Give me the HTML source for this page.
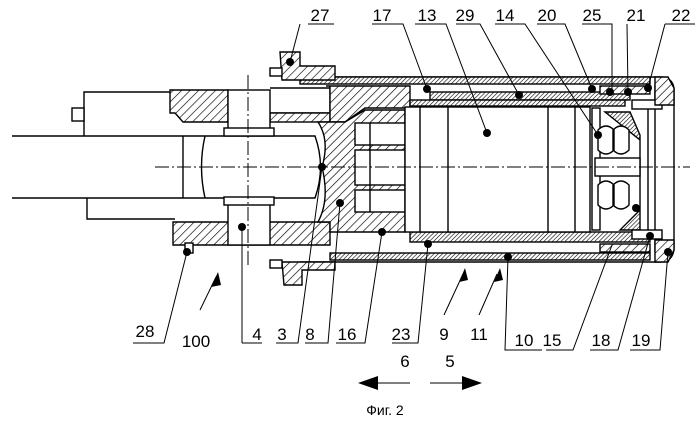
<!DOCTYPE html>
<html><head><meta charset="utf-8"><style>
html,body{margin:0;padding:0;background:#fff;}
svg{display:block}
text{font-family:"Liberation Sans",sans-serif;font-size:17px;fill:#000;font-weight:500}
</style></head><body>
<svg width="698" height="427" viewBox="0 0 698 427" xmlns="http://www.w3.org/2000/svg">
<defs>
<pattern id="h" width="6" height="6" patternUnits="userSpaceOnUse" patternTransform="rotate(45)">
<rect width="6" height="6" fill="#fff"/><line x1="0" y1="0" x2="0" y2="6" stroke="#000" stroke-width="1.3"/>
</pattern>
<pattern id="hf" width="3" height="3" patternUnits="userSpaceOnUse" patternTransform="rotate(45)">
<rect width="3" height="3" fill="#fff"/><line x1="0" y1="0" x2="0" y2="3" stroke="#000" stroke-width="1.2"/>
</pattern>
</defs>
<g stroke="#000" stroke-width="1.4" fill="none">
<!-- left box -->
<path d="M170 92 H84 V136"/>
<path d="M87 198 V219 H175"/>
<rect x="72" y="108" width="12" height="13" fill="#fff"/>
<!-- rod -->
<path d="M12 136 H315 Q326 167 315 198 H12" fill="#fff"/>
<line x1="183" y1="136" x2="183" y2="198"/>
<path d="M205 136 Q198 167 205 198"/>
<!-- upper clevis -->
<path d="M170 90 H228 V122 H183 L175 113 H170 Z" fill="url(#h)"/>
<path d="M270 88 H330 V113 H270" />
<rect x="270" y="113" width="60" height="9" fill="url(#h)"/>
<path d="M326 86 H410 V108 H365 L345 122 H330 V86" fill="url(#h)"/>
<!-- pin -->
<rect x="228" y="90" width="42" height="43" fill="#fff"/>
<rect x="224" y="128" width="50" height="8" fill="#fff"/>
<!-- lower clevis -->
<path d="M173 222 H330 V245 H173 Z" fill="url(#h)"/>
<rect x="228" y="200" width="42" height="45" fill="#fff"/>
<rect x="224" y="197" width="50" height="8" fill="#fff"/>
<!-- piston -->
<path d="M318 122 L345 122 L365 110 H405 V232 H330 V222 H318 Q330 200 322 167 Q330 140 318 122 Z" fill="url(#h)"/>
<rect x="355" y="123" width="50" height="22" fill="#fff"/>
<rect x="355" y="150" width="50" height="35" fill="#fff"/>
<rect x="355" y="190" width="50" height="22" fill="#fff"/>
<line x1="370" y1="123" x2="370" y2="212"/>
<!-- outer tube -->
<path d="M300 77 H660 Q672 77 674 88 V250 Q672 262 660 262 H300" />
<rect x="300" y="77" width="350" height="7" fill="url(#hf)"/>
<rect x="330" y="253" width="320" height="7" fill="url(#hf)"/>
<rect x="430" y="92" width="200" height="8" fill="url(#hf)"/>
<rect x="410" y="232" width="240" height="10" fill="url(#hf)"/>
<rect x="410" y="100" width="215" height="6" fill="url(#hf)"/>
<!-- motor -->
<rect x="405" y="107" width="185" height="125" fill="#fff"/>
<line x1="420" y1="107" x2="420" y2="232"/>
<line x1="448" y1="107" x2="448" y2="232"/>
<line x1="548" y1="107" x2="548" y2="232"/>
<line x1="575" y1="107" x2="575" y2="232"/>
<!-- gear -->
<rect x="592" y="108" width="8" height="122"/>
<path d="M605 112 L630 112 L640 135 V230 H620 L640 210 V140 Z" fill="url(#hf)"/>
<path d="M598 130 q8 -8 16 0 v20 q-8 8 -16 0 Z M613 130 q8 -8 16 0 v20 q-8 8 -16 0 Z" fill="#fff"/>
<path d="M598 185 q8 -8 16 0 v20 q-8 8 -16 0 Z M613 185 q8 -8 16 0 v20 q-8 8 -16 0 Z" fill="#fff"/>
<rect x="595" y="158" width="45" height="18" fill="#fff"/>
<line x1="648" y1="108" x2="648" y2="232"/>
<line x1="655" y1="85" x2="655" y2="252"/>
<rect x="632" y="100" width="30" height="9" fill="#fff"/>
<rect x="632" y="230" width="30" height="9" fill="#fff"/>
<path d="M655 77 H668 L674 88 V105 H655 Z" fill="url(#h)"/>
<path d="M655 240 H674 V250 L668 262 H655 Z" fill="url(#h)"/>
<rect x="600" y="86" width="50" height="8" fill="url(#h)"/>
<rect x="600" y="244" width="50" height="8" fill="url(#h)"/>
<!-- flange 27 -->
<path d="M280 52 H300 V66 H335 V80 H282 Z" fill="url(#h)"/>
<rect x="270" y="68" width="12" height="8" fill="#fff"/>
<path d="M282 262 H335 V270 H302 V285 H284 Z" fill="url(#h)"/>
<rect x="270" y="260" width="12" height="8" fill="#fff"/>
<rect x="185" y="243" width="8" height="10" fill="#fff"/>
</g>
<!-- centerlines -->
<line x1="155" y1="167" x2="690" y2="167" stroke="#000" stroke-width="1" stroke-dasharray="14 3 2 3"/>
<line x1="248" y1="75" x2="248" y2="265" stroke="#000" stroke-width="1" stroke-dasharray="14 3 2 3"/>
<!-- dots -->
<g fill="#000">
<circle cx="290" cy="62" r="4"/><circle cx="427" cy="89" r="4"/><circle cx="487" cy="133" r="4"/>
<circle cx="519" cy="95" r="4"/><circle cx="598" cy="135" r="4"/><circle cx="592" cy="89" r="4"/>
<circle cx="610" cy="92" r="4"/><circle cx="628" cy="92" r="4"/><circle cx="648" cy="88" r="4"/>
<circle cx="187" cy="252" r="4"/><circle cx="242" cy="227" r="4"/><circle cx="322" cy="167" r="4"/>
<circle cx="340" cy="203" r="4"/><circle cx="382" cy="232" r="4"/><circle cx="428" cy="244" r="4"/>
<circle cx="508" cy="257" r="4"/><circle cx="636" cy="208" r="4"/><circle cx="650" cy="236" r="4"/>
<circle cx="668" cy="252" r="4"/>
<path d="M465 268 l-6 14 l9 -2 Z"/><path d="M500 268 l-6 14 l9 -2 Z"/><path d="M218 272 l-7 15 l10 -2 Z"/>
<path d="M358 383 l20 -7 v14 Z"/><path d="M482 383 l-20 -7 v14 Z"/>
</g>
<!-- leaders -->
<g stroke="#000" stroke-width="1" fill="none">
<polyline points="308,24 334,24"/><line x1="300" y1="24" x2="290" y2="62"/>
<polyline points="372,24 403,24 427,89"/>
<polyline points="415,24 446,24 487,133"/>
<polyline points="456,24 480,24 519,95"/>
<polyline points="495,24 525,24 598,135"/>
<polyline points="537,24 565,24 592,89"/>
<polyline points="582,24 612,24 612,92"/>
<polyline points="627,24 628,92"/>
<polyline points="665,24 695,24"/><line x1="665" y1="24" x2="648" y2="88"/>
<polyline points="133,343 164,343 187,252"/>
<line x1="200" y1="310" x2="216" y2="277"/>
<polyline points="242,343 262,343"/><line x1="242" y1="343" x2="242" y2="227"/>
<polyline points="276,343 298,343 322,167"/>
<polyline points="305,343 328,343 340,203"/>
<polyline points="336,343 365,343 382,232"/>
<polyline points="392,343 418,343 428,244"/>
<line x1="444" y1="315" x2="463" y2="274"/>
<line x1="479" y1="315" x2="497" y2="274"/>
<polyline points="542,350 505,350 508,257"/>
<polyline points="546,350 573,350 612,245"/>
<polyline points="590,350 618,350 650,236"/>
<polyline points="630,350 660,350 668,252"/>
<line x1="378" y1="383" x2="410" y2="383"/><line x1="430" y1="383" x2="462" y2="383"/>
</g>
<g text-anchor="middle">
<text x="320" y="21">27</text><text x="382" y="21">17</text><text x="427" y="21">13</text>
<text x="465" y="21">29</text><text x="505" y="21">14</text><text x="547" y="21">20</text>
<text x="592" y="21">25</text><text x="636" y="21">21</text><text x="681" y="21">22</text>
<text x="145" y="337">28</text><text x="196" y="347">100</text><text x="257" y="340">4</text>
<text x="282" y="340">3</text><text x="310" y="340">8</text><text x="347" y="340">16</text>
<text x="401" y="340">23</text><text x="444" y="340">9</text><text x="479" y="340">11</text>
<text x="524" y="346">10</text><text x="552" y="346">15</text><text x="601" y="346">18</text>
<text x="641" y="346">19</text>
<text x="405" y="367">6</text><text x="450" y="367">5</text>
<text x="385" y="415" style="font-size:14px">Фиг. 2</text>
</g>
</svg>
</body></html>
